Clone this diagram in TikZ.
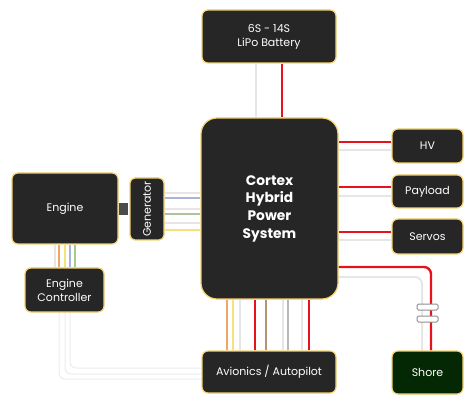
\documentclass[tikz,border=0pt]{standalone}
\usepackage{fontspec}
\setmainfont{Poppins}
\usetikzlibrary{calc}
\pgfdeclarelayer{background}
\pgfsetlayers{background,main}
\definecolor{boxfill}{HTML}{262626}
\definecolor{boxedge}{HTML}{F5D26E}
\definecolor{shorefill}{HTML}{032803}
\definecolor{wred}{HTML}{E5141C}
\definecolor{wgray}{HTML}{E6E6E6}
\definecolor{worange}{HTML}{EFA66A}
\definecolor{wyellow}{HTML}{F6E27A}
\definecolor{wblue}{HTML}{A8B4DE}
\definecolor{wgreen}{HTML}{A6C98E}
\definecolor{wbrown}{HTML}{B49474}
\definecolor{wmid}{HTML}{B8B8B8}
\definecolor{plugedge}{HTML}{8E8E8E}
\tikzset{
  blk/.style={draw=boxedge, line width=1.2pt, fill=boxfill, rounded corners=6pt,
    text=white, font=\fontsize{11}{14}\selectfont, align=center, inner sep=0pt},
  mainblk/.style={blk, rounded corners=16pt, font=\fontsize{13.8}{17.7}\selectfont\bfseries},
  redw/.style={draw=wred, line width=2.4pt},
  grayw/.style={draw=wgray, line width=2pt},
  thin/.style={line width=1.1pt},
  plug/.style={draw=plugedge, fill=white, line width=1pt, rounded corners=1.5pt,
    minimum width=21pt, minimum height=6pt, inner sep=0pt},
}
\begin{document}
\begin{tikzpicture}[x=1pt,y=-1pt]
\useasboundingbox (0,0) rectangle (474,406);
% ---- boxes ----
\node[blk, minimum width=134pt, minimum height=53pt] (bat) at (269,36.5) {6S - 14S\\LiPo Battery};
\node[mainblk, minimum width=137pt, minimum height=181pt] (main) at (269.5,208.5) {Cortex\\Hybrid\\Power\\System};
\node[blk, minimum width=106pt, minimum height=71pt] (eng) at (65,208.5) {Engine};
\node[blk, minimum width=34pt, minimum height=62pt, rounded corners=5pt] (gen) at (147,209) {};
\node[rotate=90, text=white, font=\fontsize{11}{14}\selectfont] (gentext) at (gen) {Generator};
\node[blk, minimum width=79pt, minimum height=44pt] (ctl) at (64.5,290) {Engine\\Controller};
\node[blk, minimum width=134pt, minimum height=42pt] (avi) at (269,372) {Avionics / Autopilot};
\node[blk, minimum width=71pt, minimum height=34pt] (hv) at (427.5,146) {HV};
\node[blk, minimum width=71pt, minimum height=33pt] (pay) at (427.5,191.5) {Payload};
\node[blk, minimum width=71pt, minimum height=35pt] (srv) at (427.5,236.5) {Servos};
\node[blk, fill=shorefill, minimum width=71pt, minimum height=43pt] (shore) at (427.5,372.5) {Shore};
% shore plugs
\node[plug] (plug1) at (427.5,307) {};
\node[plug] (plug2) at (427.5,319) {};
% ---- wires ----
\begin{pgfonlayer}{background}
% battery -> main
\draw[grayw] (bat.south -| 256,0) -- (main.north -| 256,0);
\draw[redw] (bat.south -| 282,0) -- (main.north -| 282,0);
% main -> right boxes
\foreach \b/\r/\g in {hv/142/150, pay/187/196, srv/232/240}{
  \draw[grayw] (main.east |- 0,\g) -- (\b.west |- 0,\g);
  \draw[redw] (main.east |- 0,\r) -- (\b.west |- 0,\r);
}
% main -> shore
\draw[grayw, rounded corners=7pt] (main.east |- 0,277) -| (shore.north -| 422,0);
\draw[redw, rounded corners=7pt] (main.east |- 0,267) -| (shore.north -| 431,0);
% generator -> main
\foreach \y in {193,209,223}{\draw[draw=wgray, line width=2.6pt] (gen.east |- 0,\y) -- (main.west |- 0,\y);}
\draw[draw=wblue, thin] (gen.east |- 0,198) -- (main.west |- 0,198);
\draw[draw=wgreen!70!wmid, thin] (gen.east |- 0,214) -- (main.west |- 0,214);
\draw[draw=wyellow, thin] (gen.east |- 0,230) -- (main.west |- 0,230);
% engine -> generator shaft
\fill[fill=black!70] (eng.east |- 0,203) rectangle ($(gen.west |- 0,215)+(-1,0)$);
% engine -> controller
\draw[draw=wgray, thin] (eng.south -| 55,0) -- (ctl.north -| 55,0);
\draw[draw=worange, thin] (eng.south -| 59,0) -- (ctl.north -| 59,0);
\draw[draw=wyellow, thin] (eng.south -| 65,0) -- (ctl.north -| 65,0);
\draw[draw=wblue, thin] (eng.south -| 70,0) -- (ctl.north -| 70,0);
\draw[draw=wgreen, thin] (eng.south -| 75,0) -- (ctl.north -| 75,0);
% controller -> avionics
\draw[draw=wgray!80, line width=1pt, rounded corners=6pt] (ctl.south -| 59,0) |- (avi.west |- 0,379);
\draw[draw=wgray!80, line width=1pt, rounded corners=6pt] (ctl.south -| 65,0) |- (avi.west |- 0,374);
\draw[draw=wgray!80, line width=1pt, rounded corners=6pt] (ctl.south -| 70,0) |- (avi.west |- 0,368);
% main -> avionics
\draw[draw=worange, thin] (main.south -| 227,0) -- (avi.north -| 227,0);
\draw[draw=wyellow, thin] (main.south -| 233,0) -- (avi.north -| 233,0);
\draw[draw=wgray, thin] (main.south -| 240,0) -- (avi.north -| 240,0);
\draw[draw=wred, thin] (main.south -| 255,0) -- (avi.north -| 255,0);
\draw[draw=wbrown, line width=1.4pt] (main.south -| 266,0) -- (avi.north -| 266,0);
\draw[draw=wgray, thin] (main.south -| 283,0) -- (avi.north -| 283,0);
\draw[draw=wmid, thin] (main.south -| 288,0) -- (avi.north -| 288,0);
\draw[draw=wgray, thin] (main.south -| 302,0) -- (avi.north -| 302,0);
\draw[draw=wred, line width=1.4pt] (main.south -| 309,0) -- (avi.north -| 309,0);
\end{pgfonlayer}
\end{tikzpicture}
\end{document}
